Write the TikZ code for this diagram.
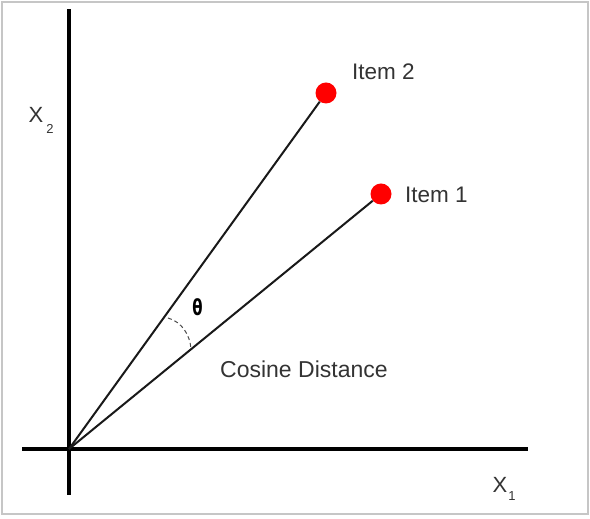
\documentclass[tikz,border=0pt]{standalone}
\usepackage{fontspec}
\setmainfont{Liberation Sans}
\newfontfamily\thetafont{DejaVu Sans}
\begin{document}
\begin{tikzpicture}[x=1pt,y=1pt,
  axis/.style={line width=3.2pt,black},
  vec/.style={line width=2pt,black!90},
  dot/.style={circle,fill=red,draw=none,minimum size=21pt,inner sep=0pt},
  lbl/.style={font=\fontsize{22.5}{22.5}\selectfont,text=black!80,inner sep=0pt},
  ax/.style={font=\fontsize{22}{22}\selectfont,text=black!80,inner sep=0pt}]
\useasboundingbox (0,0) rectangle (590,519);
\draw[gray!45,line width=1.6pt] (2,5) rectangle (588,517);
\coordinate (O) at (69,70);
\coordinate (ytop) at (69,510);
\coordinate (ybot) at (69,24);
\coordinate (xl) at (22,70);
\coordinate (xr) at (528,70);
\draw[axis] (ybot) -- (ytop);
\draw[axis] (xl) -- (xr);
\node[dot] (i2) at (326,426) {};
\node[dot] (i1) at (381,325) {};
\draw[vec] (O) -- (i2);
\draw[vec] (O) -- (i1);
\coordinate (a2) at (168,201);
\coordinate (a1) at (191,170);
\draw[dashed,dash pattern=on 4pt off 3pt,line width=1pt,black!70] (a2) .. controls (182,197) and (190,184) .. (a1);
\node[lbl,anchor=west] (l2) at (352,447) {Item 2};
\node[lbl,anchor=west] (l1) at (405,324) {Item 1};
\node[lbl,anchor=west,font=\fontsize{23}{23}\selectfont] (cd) at (220,150) {Cosine Distance};
\node[font=\thetafont\bfseries\fontsize{22}{22}\selectfont,text=black,inner sep=0pt] (th) at (197.5,211.5) {\scalebox{0.68}[1]{θ}};
\node[ax,anchor=base west] (x2) at (28.5,396) {X\hspace{3pt}\raisebox{-11pt}{\fontsize{13}{13}\selectfont 2}};
\node[ax,anchor=base west] (x1) at (492.5,26) {X\hspace{1pt}\raisebox{-8pt}{\fontsize{13}{13}\selectfont 1}};
\end{tikzpicture}
\end{document}
